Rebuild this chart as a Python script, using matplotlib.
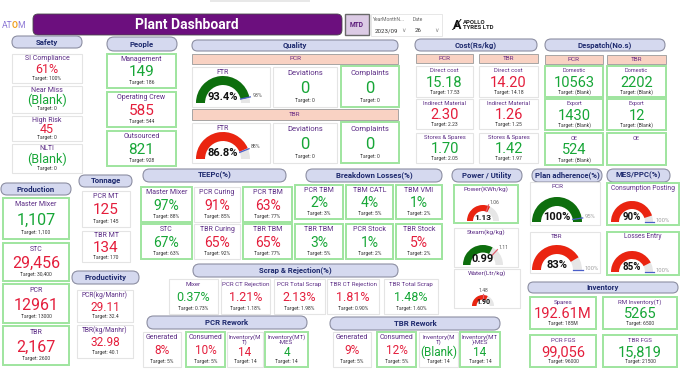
import matplotlib.pyplot as plt
from matplotlib.patches import FancyBboxPatch, Rectangle, Wedge
import numpy as np

plt.rcParams['font.family'] = ['Roboto', 'DejaVu Sans']

# ---------------- data ----------------
safety_titles = ['SI Compliance', 'Near Miss', 'High Risk', 'NLTI']
safety_values = ['61%', '(Blank)', '45', '(Blank)']
safety_targets = ['100%', '0', '0', '0']
safety_ok = [False, True, False, True]

people_titles = ['Management', 'Operating Crew', 'Outsourced']
people_values = ['149', '585', '821']
people_targets = ['186', '544', '928']
people_ok = [True, False, True]

ftr_grades = ['PCR', 'TBR']
ftr_values = [93.4, 86.8]
ftr_targets = [93, 88]
quality_titles = ['Deviations', 'Complaints']
quality_values = ['0', '0']
quality_targets = ['0', '0']

cost_titles = ['Direct cost', 'Indirect Material', 'Stores & Spares']
cost_pcr_values = ['15.18', '2.30', '1.70']
cost_pcr_targets = ['17.53', '2.23', '2.05']
cost_pcr_ok = [True, False, True]
cost_tbr_values = ['14.20', '1.26', '1.42']
cost_tbr_targets = ['14.18', '1.25', '1.97']
cost_tbr_ok = [False, False, True]

despatch_titles = ['Domestic', 'Export', 'OE']
despatch_pcr_values = ['10563', '1430', '524']
despatch_tbr_values = ['2202', '12', '']

production_titles = ['Master Mixer', 'STC', 'PCR', 'TBR']
production_values = ['1,107', '29,456', '12961', '2,167']
production_targets = ['1,100', '30,400', '13000', '2600']
production_ok = [True, False, False, False]

tonnage_titles = ['PCR MT', 'TBR MT']
tonnage_values = ['125', '134']
tonnage_targets = ['145', '170']

productivity_titles = ['PCR(kg/Manhr)', 'TBR(kg/Manhr)']
productivity_values = ['29.11', '32.98']
productivity_targets = ['32.4', '40.1']

teep_titles = ['Master Mixer', 'PCR Curing', 'PCR TBM', 'STC', 'TBR Curing', 'TBR TBM']
teep_values = ['97%', '91%', '63%', '67%', '65%', '65%']
teep_targets = ['88%', '85%', '77%', '63%', '92%', '77%']
teep_ok = [True, False, False, True, False, False]

breakdown_titles = ['PCR TBM', 'TBM CATL', 'TBM VMI', 'TBR TBM', 'PCR Stock', 'TBR Stock']
breakdown_values = ['2%', '4%', '1%', '3%', '1%', '5%']
breakdown_targets = ['3%', '5%', '2%', '5%', '2%', '2%']
breakdown_ok = [True, True, True, True, True, False]

utility_titles = ['Power(KWh/kg)', 'Steam(kg/kg)', 'Water(Ltr/kg)']
utility_values = [1.13, 0.99, 1.90]
utility_targets = [1.06, 1.11, 1.48]
utility_max = [1.75, 1.5, 2.96]

plan_titles = ['PCR', 'TBR']
plan_values = [100, 83]
plan_targets = [95, 100]

mes_titles = ['Consumption Posting', 'Losses Entry']
mes_values = [90, 85]
mes_targets = [100, 100]

scrap_titles = ['Mixer', 'PCR CT Rejection', 'PCR Total Scrap', 'TBR CT Rejection', 'TBR Total Scrap']
scrap_values = ['0.37%', '1.21%', '2.13%', '1.81%', '1.48%']
scrap_targets = ['0.73%', '1.18%', '1.98%', '0.90%', '1.60%']
scrap_ok = [True, False, False, False, True]

pcr_rework_titles = ['Generated', 'Consumed', 'Inventory(M\nT)', 'Inventory(MT)\n-MES']
pcr_rework_values = ['8%', '10%', '14', '4']
pcr_rework_targets = ['5%', '5%', '14', '14']
pcr_rework_ok = [False, False, False, True]
tbr_rework_titles = ['Generated', 'Consumed', 'Inventory(M\nT)', 'Inventory(MT\n)-MES']
tbr_rework_values = ['9%', '12%', '(Blank)', '14']
tbr_rework_targets = ['5%', '5%', '14', '14']
tbr_rework_ok = [False, False, True, True]

inventory_titles = ['Spares', 'RM Inventory(T)', 'PCR FGS', 'TBR FGS']
inventory_values = ['192.61M', '5265', '99,056', '15,819']
inventory_targets = ['185M', '6500', '96000', '21500']
inventory_ok = [False, True, False, True]

# ---------------- style ----------------
GREEN = '#17a637'
RED = '#e41e3c'
TITLE = '#5c2d86'
NAVY = '#1e2a6e'
G_DARK = '#0d6e0d'
G_RED = '#ea2410'

fig = plt.figure(figsize=(6.8, 3.83), dpi=100)
ax = fig.add_axes([0, 0, 1, 1])
ax.set_xlim(0, 680)
ax.set_ylim(383, 0)
ax.axis('off')


def pill(x0, x1, y0, y1, text):
    h = y1 - y0
    ax.add_patch(FancyBboxPatch((x0, y0), x1 - x0, h,
                                boxstyle=f'round,pad=0,rounding_size={h / 2}',
                                fc='#d5d9ef', ec='#8d8fa3', lw=0.8, zorder=2))
    ax.text((x0 + x1) / 2, (y0 + y1) / 2, text, ha='center', va='center',
            fontsize=5.6, fontweight='bold', color=NAVY, zorder=3)


def header(x0, x1, y0, y1, text):
    ax.add_patch(Rectangle((x0, y0), x1 - x0, y1 - y0, fc='#f9d2c3', ec='#9a9a9a', lw=0.6, zorder=2))
    ax.text((x0 + x1) / 2, (y0 + y1) / 2, text, ha='center', va='center',
            fontsize=4.6, color='#6a2a82', zorder=3)


def card(x0, x1, y0, y1, green=False):
    ax.add_patch(Rectangle((x0 + 1.2, y0 + 1.2), x1 - x0, y1 - y0, fc='#d3d3d3', ec='none', zorder=1))
    ax.add_patch(Rectangle((x0, y0), x1 - x0, y1 - y0, fc='white',
                           ec='#9fe59f' if green else '#e4e4e4',
                           lw=1.4 if green else 0.8, zorder=2))


def kpi(box, title, value, target, ok, green, vsize, tsize=5.0):
    x0, x1, y0, y1 = box
    card(x0, x1, y0, y1, green)
    cx = (x0 + x1) / 2
    h = y1 - y0
    if '\n' in title:
        ax.text(cx, y0 + 0.22 * h, title, ha='center', va='center', fontsize=tsize,
                color=TITLE, linespacing=0.9, zorder=3)
        vy = 0.58
    else:
        ax.text(cx, y0 + 0.16 * h, title, ha='center', va='center', fontsize=tsize,
                color=TITLE, zorder=3)
        vy = 0.54
    ax.text(cx, y0 + vy * h, value, ha='center', va='center', fontsize=vsize,
            color=GREEN if ok else RED, zorder=3)
    if target is not None:
        ax.text(cx, y0 + 0.84 * h, f'Target: {target}', ha='center', va='center',
                fontsize=3.6, color='#333333', zorder=3)


def gauge(cx, cy, r, w, frac, color, tfrac, tlabel, vtext, vsize,
          tcolor='#4a5fc8', lcolor='#555555', lsize=3.8):
    ax.add_patch(Wedge((cx, cy), r, 180, 360, width=w, fc='#e6e6e6', ec='none', zorder=3))
    ax.add_patch(Wedge((cx, cy), r, 180, 180 + 180 * min(frac, 1.0), width=w,
                       fc=color, ec='none', zorder=4))
    a = np.radians(180 + 180 * min(tfrac, 1.0))
    ax.plot([cx + (r - w) * np.cos(a), cx + (r + 1) * np.cos(a)],
            [cy + (r - w) * np.sin(a), cy + (r + 1) * np.sin(a)],
            color=tcolor, lw=0.9, zorder=5)
    ca = np.cos(a)
    ha = 'left' if ca > 0.25 else ('right' if ca < -0.25 else 'center')
    ax.text(cx + (r + 3) * np.cos(a), cy + (r + 3) * np.sin(a) - 1, tlabel,
            ha=ha, va='center', fontsize=lsize, color=lcolor, zorder=5)
    ax.text(cx, cy - 0.5, vtext, ha='center', va='bottom', fontsize=vsize,
            fontweight='bold', color='#111111', zorder=5)


# ---------------- top bar ----------------
ax.add_patch(Rectangle((210, 0), 100, 1.5, fc='#e8e8e8', ec='none'))
ax.text(2, 25, 'AT', ha='left', va='center', fontsize=6.2, color='#8f7ad6')
ax.text(11.5, 25, 'O', ha='left', va='center', fontsize=6.2, fontweight='bold', color='#f0a020')
ax.text(17.5, 25, 'M', ha='left', va='center', fontsize=6.2, color='#8f7ad6')
ax.add_patch(FancyBboxPatch((33, 14), 309, 21, boxstyle='round,pad=0,rounding_size=5',
                            fc='#6c0f7e', ec='#4a4a4a', lw=0.6, zorder=2))
ax.text(187, 25, 'Plant Dashboard', ha='center', va='center', fontsize=10,
        fontweight='bold', color='white', zorder=3)
ax.add_patch(Rectangle((345, 14), 24, 21, fc='#dccbe5', ec='#6a6a6a', lw=1.0, zorder=2))
ax.text(357, 25, 'MTD', ha='center', va='center', fontsize=4.8, fontweight='bold',
        color='#5a1a7a', zorder=3)
ax.add_patch(Rectangle((371, 14), 71, 22, fc='white', ec='#e3e3e3', lw=0.6, zorder=2))
ax.text(373, 19.5, 'YearMonthN...', ha='left', va='center', fontsize=3.6, color='#666666', zorder=3)
ax.text(375, 31, '2023/09', ha='left', va='center', fontsize=4.4, color='#333333', zorder=3)
ax.text(403, 31, '∨', ha='center', va='center', fontsize=4.4, color='#888888', zorder=3)
ax.text(413, 19.5, 'Date', ha='left', va='center', fontsize=3.6, color='#666666', zorder=3)
ax.text(415, 31, '26', ha='left', va='center', fontsize=4.4, color='#333333', zorder=3)
ax.text(436, 31, '∨', ha='center', va='center', fontsize=4.4, color='#888888', zorder=3)
ax.text(456, 26, 'Ⱥ', ha='center', va='center', fontsize=9, fontweight='bold', color='#111111')
ax.text(463, 25, 'APOLLO\nTYRES LTD', ha='left', va='center', fontsize=4.3,
        fontweight='bold', color='#222222', linespacing=0.95)

# ---------------- Safety ----------------
pill(12, 82, 36, 48, 'Safety')
safety_rows = [(54, 83), (86, 113), (116, 141), (144, 173)]
for i, (y0, y1) in enumerate(safety_rows):
    kpi((12, 82, y0, y1), safety_titles[i], safety_values[i], safety_targets[i],
        safety_ok[i], False, 9.0, 5.0)

# ---------------- People ----------------
pill(107, 177, 37, 51, 'People')
people_rows = [(54, 88), (92, 127), (131, 166)]
for i, (y0, y1) in enumerate(people_rows):
    kpi((107, 176, y0, y1), people_titles[i], people_values[i], people_targets[i],
        people_ok[i], True, 11.0, 5.0)

# ---------------- Quality ----------------
pill(192, 398, 40, 51, 'Quality')
for g, (hy0, hy1, cy0, cy1) in enumerate([(54, 64, 67, 107), (109, 120, 123, 163)]):
    header(192, 398, hy0, hy1, ftr_grades[g])
    card(192, 270, cy0, cy1)
    ax.text(223, cy0 + 5, 'FTR', ha='center', va='center', fontsize=5.0, color=TITLE, zorder=3)
    gauge(223, cy1 - 4, 27, 9, ftr_values[g] / 100, G_DARK if g == 0 else G_RED,
          ftr_targets[g] / 100, f'{ftr_targets[g]}%', f'{ftr_values[g]}%', 8.0)
    kpi((273, 337, cy0, cy1), quality_titles[0], quality_values[0], quality_targets[0],
        True, False, 12.0, 5.5)
    kpi((341, 399, cy0 - 1, cy1), quality_titles[1], quality_values[1], quality_targets[1],
        True, True, 12.0, 5.5)

# ---------------- Cost ----------------
pill(415, 537, 39, 51, 'Cost(Rs/kg)')
cost_rows = [(66, 97), (99, 129), (133, 163)]
for x0, x1, name, vals, tgts, oks in [(416, 473, 'PCR', cost_pcr_values, cost_pcr_targets, cost_pcr_ok),
                                      (479, 538, 'TBR', cost_tbr_values, cost_tbr_targets, cost_tbr_ok)]:
    header(x0, x1, 54, 63, name)
    for i, (y0, y1) in enumerate(cost_rows):
        kpi((x0, x1, y0, y1), cost_titles[i], vals[i], tgts[i], oks[i], False, 10.5, 4.2)

# ---------------- Despatch ----------------
pill(545, 665, 39, 51, 'Despatch(No.s)')
desp_rows = [(66, 97), (99, 130), (133, 165)]
for x0, x1, name, vals in [(545, 603, 'PCR', despatch_pcr_values),
                           (607, 666, 'TBR', despatch_tbr_values)]:
    header(x0, x1, 55, 64, name)
    for i, (y0, y1) in enumerate(desp_rows):
        kpi((x0, x1, y0, y1), despatch_titles[i], vals[i],
            '(Blank)' if vals[i] else None, True, True, 10.5, 4.0)

# ---------------- Production ----------------
pill(1, 71, 183, 195, 'Production')
prod_rows = [(198, 239), (243, 281), (284, 323), (326, 365)]
for i, (y0, y1) in enumerate(prod_rows):
    kpi((3, 69, y0, y1), production_titles[i], production_values[i], production_targets[i],
        production_ok[i], True, 11.5, 5.0)

# ---------------- Tonnage ----------------
pill(79, 132, 175, 187, 'Tonnage')
for i, (y0, y1) in enumerate([(191, 227), (231, 262)]):
    kpi((82, 130, y0, y1), tonnage_titles[i], tonnage_values[i], tonnage_targets[i],
        False, False, 11.0, 5.0)

# ---------------- Productivity ----------------
pill(72, 139, 271, 284, 'Productivity')
for i, (y0, y1) in enumerate([(290, 322), (325, 358)]):
    kpi((77, 133, y0, y1), productivity_titles[i], productivity_values[i],
        productivity_targets[i], False, False, 8.5, 4.8)

# ---------------- TEEPc ----------------
pill(143, 286, 169, 182, 'TEEPc(%)')
teep_cols = [(141, 192, True), (194, 240, False), (243, 292, True)]
teep_rows = [(187, 222), (224, 259)]
for r, (y0, y1) in enumerate(teep_rows):
    for c, (x0, x1, gr) in enumerate(teep_cols):
        k = r * 3 + c
        kpi((x0, x1, y0, y1), teep_titles[k], teep_values[k], teep_targets[k],
            teep_ok[k], gr, 10.0, 5.0)

# ---------------- Breakdown ----------------
pill(306, 442, 169, 182, 'Breakdown Losses(%)')
bd_cols = [(295, 343), (346, 393), (396, 442)]
bd_rows = [(185, 219), (224, 259)]
for r, (y0, y1) in enumerate(bd_rows):
    for c, (x0, x1) in enumerate(bd_cols):
        k = r * 3 + c
        kpi((x0, x1, y0, y1), breakdown_titles[k], breakdown_values[k], breakdown_targets[k],
            breakdown_ok[k], True, 10.0, 5.0)

# ---------------- Power / Utility ----------------
pill(452, 522, 169, 182, 'Power / Utility')
util_boxes = [(454, 518, 185, 223, True), (454, 518, 228, 267, False), (454, 520, 269, 308, False)]
util_gauge = [(16, 6, 6.0), (20, 7.5, 8.0), (11, 4.5, 5.0)]
util_colors = [G_RED, G_DARK, G_RED]
for i, (x0, x1, y0, y1, gr) in enumerate(util_boxes):
    card(x0, x1, y0, y1, gr)
    ax.text((x0 + x1) / 2, y0 + 4, utility_titles[i], ha='center', va='center',
            fontsize=4.6, color=TITLE, zorder=3)
    r, w, vs = util_gauge[i]
    gauge(483, y1 - 2, r, w, utility_values[i] / utility_max[i], util_colors[i],
          utility_targets[i] / utility_max[i], f'{utility_targets[i]:.2f}',
          f'{utility_values[i]:.2f}', vs, tcolor='#e06070', lsize=3.6)

# ---------------- Plan adherence ----------------
pill(532, 602, 169, 182, 'Plan adherence(%)')
for i, (y0, y1) in enumerate([(182, 225), (232, 273)]):
    card(530, 600, y0, y1)
    ax.text(557, y0 + 5, plan_titles[i], ha='center', va='center', fontsize=4.6,
            color=TITLE, zorder=3)
    gauge(557, y1 - 3, 25, 9, plan_values[i] / 100, G_DARK if i == 0 else G_RED,
          plan_targets[i] / 100, f'{plan_targets[i]}%', f'{plan_values[i]}%', 8.0,
          lcolor='#a0a0a0', lsize=4.2)

# ---------------- MES/PPC ----------------
pill(607, 670, 169, 182, 'MES/PPC(%)')
for i, (y0, y1) in enumerate([(183, 225), (232, 275)]):
    card(607, 679, y0, y1, True)
    ax.text(643, y0 + 5, mes_titles[i], ha='center', va='center', fontsize=4.8,
            color=TITLE, zorder=3)
    gauge(632, y1 - 3, 21, 8, mes_values[i] / 100, G_RED,
          mes_targets[i] / 100, f'{mes_targets[i]}%', f'{mes_values[i]}%', 7.0,
          lcolor='#a0a0a0', lsize=4.2)

# ---------------- Scrap & Rejection ----------------
pill(193, 398, 264, 277, 'Scrap & Rejection(%)')
scrap_cols = [(169, 218), (221, 270), (274, 325), (327, 379), (384, 438)]
for i, (x0, x1) in enumerate(scrap_cols):
    kpi((x0, x1, 279, 314), scrap_titles[i], scrap_values[i], scrap_targets[i],
        scrap_ok[i], False, 9.0, 4.4)

# ---------------- Rework ----------------
pill(147, 307, 316, 329, 'PCR Rework')
pcr_cols = [(143, 181, False), (186, 225, True), (227, 263, False), (265, 308, True)]
for i, (x0, x1, gr) in enumerate(pcr_cols):
    kpi((x0, x1, 332, 367), pcr_rework_titles[i], pcr_rework_values[i], pcr_rework_targets[i],
        pcr_rework_ok[i], gr, 8.5, 4.4 if '\n' in pcr_rework_titles[i] else 5.0)

pill(330, 500, 317, 330, 'TBR Rework')
tbr_cols = [(333, 371, False), (377, 416, True), (419, 458, False), (460, 500, True)]
for i, (x0, x1, gr) in enumerate(tbr_cols):
    kpi((x0, x1, 332, 367), tbr_rework_titles[i], tbr_rework_values[i], tbr_rework_targets[i],
        tbr_rework_ok[i], gr, 8.5, 4.4 if '\n' in tbr_rework_titles[i] else 5.0)

# ---------------- Inventory ----------------
pill(528, 678, 282, 293, 'Inventory')
inv_boxes = [(530, 596, 297, 329), (603, 677, 297, 329), (530, 596, 335, 367), (603, 677, 335, 367)]
for i, box in enumerate(inv_boxes):
    kpi(box, inventory_titles[i], inventory_values[i], inventory_targets[i],
        inventory_ok[i], True, 10.5, 4.4)

plt.savefig('out.png', dpi=100)
